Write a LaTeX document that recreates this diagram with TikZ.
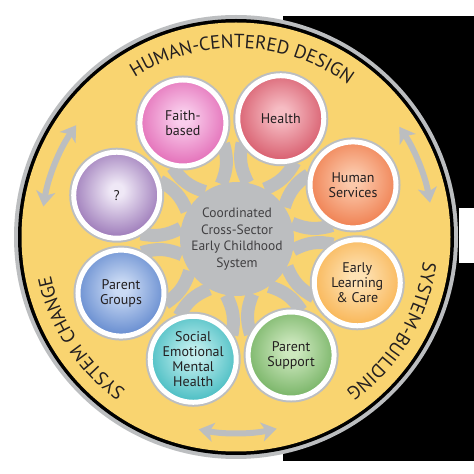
\documentclass[tikz,border=0pt]{standalone}
\usepackage{fontspec}
\setmainfont{PT Sans}
\usetikzlibrary{arrows.meta,decorations.text,calc}
\definecolor{ringyellow}{HTML}{F9D470}
\definecolor{ringgray}{HTML}{BCBEC0}
\definecolor{txt}{HTML}{231F20}
\definecolor{hubtxt}{HTML}{414042}
\pgfdeclarelayer{back}
\pgfdeclarelayer{bands}
\pgfsetlayers{back,bands,main}
\colorlet{bubin}{white}\colorlet{bubout}{black}
\pgfdeclareradialshading[bubin,bubout]{bubshade}{\pgfpoint{0bp}{3bp}}{%
  color(0bp)=(bubin); color(4bp)=(bubin); color(38bp)=(bubout); color(100bp)=(bubout)}
\tikzset{
  bubble/.style 2 args={circle, minimum size=86pt, inner sep=0pt, align=center,
     font=\fontsize{14}{15}\selectfont, text=txt,
     preaction={draw=ringgray, line width=9pt},
     draw=white, line width=5pt,
     /utils/exec={\definecolor{bubin}{HTML}{#1}\definecolor{bubout}{HTML}{#2}},
     shading=bubshade},
  band/.style={draw=ringgray, line width=13pt},
  dblarrow/.style={draw=ringgray, line width=6pt,
     {Stealth[length=15pt,width=19pt,inset=4pt]}-{Stealth[length=15pt,width=19pt,inset=4pt]}},
  arctext/.style={decorate, decoration={text along path, text align=center,
     text={|\fontsize{19}{19}\selectfont\color{txt}|#1}}},
}
\begin{document}
\begin{tikzpicture}[x=1pt,y=1pt]
\useasboundingbox (0,0) rectangle (474,474);
\begin{pgfonlayer}{back}
\fill[white] (0,0) rectangle (474,474);
\fill[black] (283,458) rectangle (474,13);
\fill[white] (459,266) rectangle (474,211);
\coordinate (O) at (236,237);
\fill[ringgray] (O) circle (222);
\fill[black] (O) circle (218);
\fill[ringyellow] (O) circle (214.5);
\end{pgfonlayer}

\coordinate (C) at (237,235);
\node[circle, fill=ringgray, minimum size=114pt, inner sep=0pt, align=center,
  font=\fontsize{13.5}{16.5}\selectfont, text=hubtxt] (hub) at (C)
  {Coordinated\\Cross-Sector\\Early Childhood\\System};

\node[bubble={F9CDEC}{D9419F}] (faith)    at ($(C)+(115:128)$) {Faith-\\based};
\node[bubble={F6BCC3}{C92F44}] (health)   at ($(C)+(70:128)$)  {Health};
\node[bubble={FBC8AA}{EA5E27}] (human)    at ($(C)+(25:128)$)  {Human\\Services};
\node[bubble={FEE2B4}{F6A12A}] (early)    at ($(C)+(-20:128)$) {Early\\Learning\\\& Care};
\node[bubble={CDE8BE}{4F9B3C}] (psupport) at ($(C)+(-65:128)$) {Parent\\Support};
\node[bubble={C0EEEE}{10A6AE}] (social)   at ($(C)+(-110:128)$) {Social\\Emotional\\Mental\\Health};
\node[bubble={CADAF4}{3566BE}] (pgroups)  at ($(C)+(-155:128)$) {Parent\\Groups};
\node[bubble={EFE8F6}{74449B}] (unknown)  at ($(C)+(160:128)$) {?};

\begin{pgfonlayer}{bands}
\foreach \n/\a in {faith/115, health/70, human/25, early/-20, psupport/-65, social/-110, pgroups/-155, unknown/160}{
  \pgfmathtruncatemacro\ha{mod(\a+9+720,360)}
  \pgfmathtruncatemacro\hb{mod(\a-9+720,360)}
  \pgfmathtruncatemacro\ba{mod(\a+180-38+720,360)}
  \pgfmathtruncatemacro\bb{mod(\a+180+38+720,360)}
  \draw[band] (hub.\ha) to[bend left=20] (\n.\ba);
  \draw[band] (hub.\hb) to[bend right=20] (\n.\bb);
}
\end{pgfonlayer}

\coordinate (la) at ($(O)+(171:195)$);
\coordinate (ra) at ($(O)+(34:197)$);
\coordinate (ba) at ($(O)+(-101:196)$);
\draw[dblarrow] (la) arc (171:145:195);
\draw[dblarrow] (ra) arc (34:10:197);
\draw[dblarrow] (ba) arc (-101:-78:196);

\path[arctext={HUMAN-CENTERED DESIGN}] ($(O)+(140:189)$) arc (140:36:189);
\path[arctext={SYSTEM-BUILDING}] ($(O)+(10:189)$) arc (10:-72:189);
\path[arctext={SYSTEM CHANGE}] ($(O)+(254:189)$) arc (254:172:189);
\end{tikzpicture}
\end{document}
